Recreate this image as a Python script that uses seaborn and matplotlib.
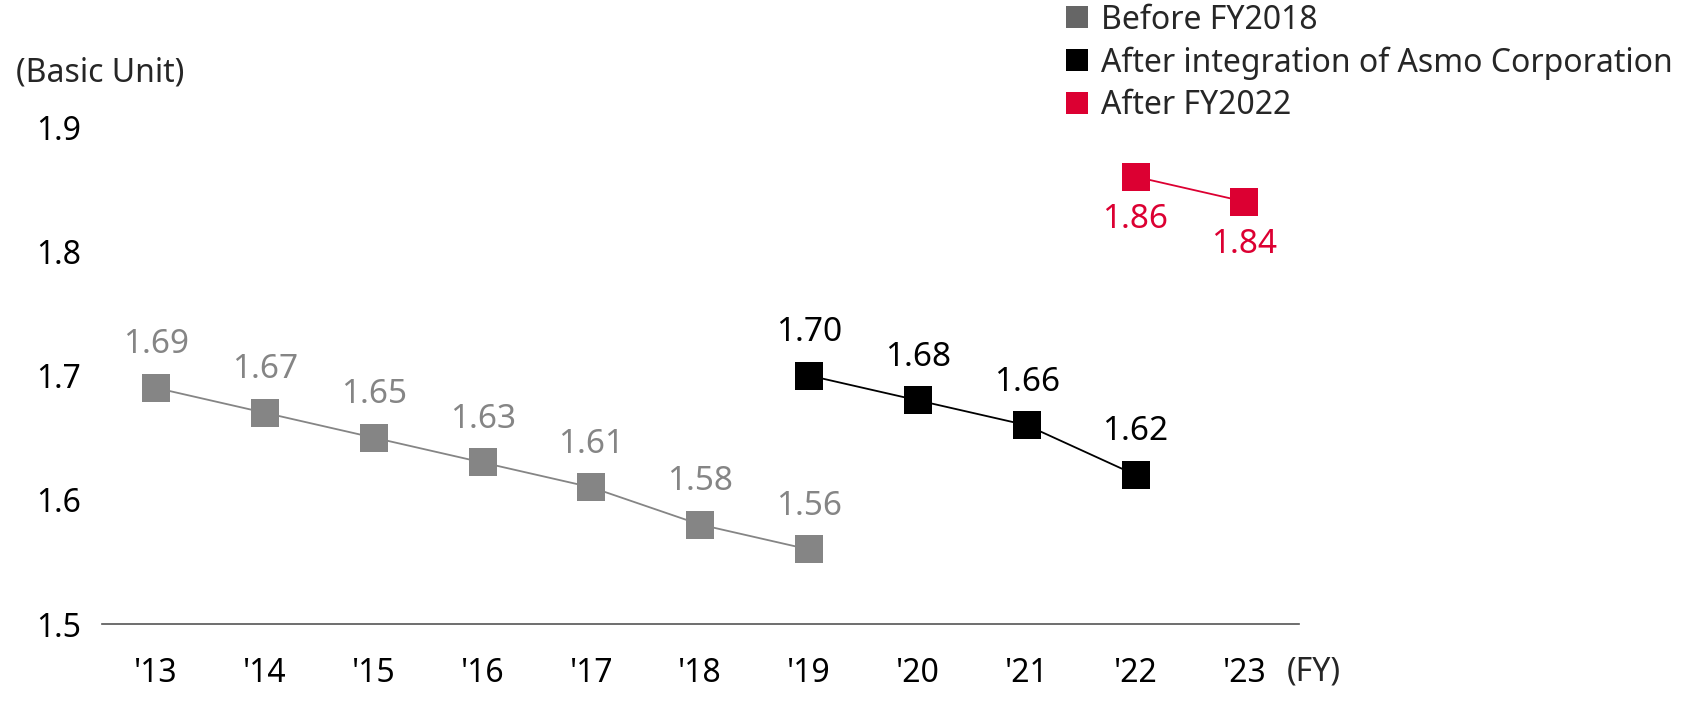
import matplotlib
matplotlib.use("Agg")
import matplotlib.pyplot as plt
from matplotlib.lines import Line2D
import seaborn as sns
import pandas as pd

# data
years_before = [2013, 2014, 2015, 2016, 2017, 2018, 2019]
vals_before = [1.69, 1.67, 1.65, 1.63, 1.61, 1.58, 1.56]
years_asmo = [2019, 2020, 2021, 2022]
vals_asmo = [1.70, 1.68, 1.66, 1.62]
years_2022 = [2022, 2023]
vals_2022 = [1.86, 1.84]

tick_years = list(range(2013, 2024))
tick_labels = ["'13", "'14", "'15", "'16", "'17", "'18", "'19", "'20", "'21", "'22", "'23"]
legend_labels = ["Before FY2018", "After integration of Asmo Corporation", "After FY2022"]

grey = "#858585"
grey_legend = "#666666"
black = "#000000"
red = "#DC0032"
fs = 23

sns.set_style("white")
plt.rcParams['font.family'] = ['Noto Sans', 'DejaVu Sans']

fig = plt.figure(figsize=(17, 7.1), dpi=100)
ax = fig.add_axes([0.0598, 0.1211, 0.7042, 0.7])

series = [
    (years_before, vals_before, grey, 'above'),
    (years_asmo, vals_asmo, black, 'above'),
    (years_2022, vals_2022, red, 'below'),
]
for xs, ys, col, pos in series:
    df = pd.DataFrame({'year': xs, 'value': ys})
    sns.lineplot(data=df, x='year', y='value', ax=ax, color=col, lw=1.3,
                 marker='s', markersize=19.5, markeredgewidth=0)
    for x, y in zip(xs, ys):
        dy = 31 if pos == 'above' else -31
        ax.annotate(f"{y:.2f}", (x, y), xytext=(0, dy), textcoords='offset points',
                    ha='center', va='center', fontsize=24, color=col)

ax.set_xlim(2012.5, 2023.5)
ax.set_ylim(1.5, 1.9)
ax.set_xticks(tick_years)
ax.set_xticklabels(tick_labels)
ax.set_yticks([1.5, 1.6, 1.7, 1.8, 1.9])
ax.set_yticklabels(["1.5", "1.6", "1.7", "1.8", "1.9"])
ax.tick_params(axis='both', length=0, labelsize=fs, colors='black')
ax.tick_params(axis='x', pad=24)
ax.tick_params(axis='y', pad=15)
ax.set_xlabel("")
ax.set_ylabel("")
for s in ['top', 'right', 'left']:
    ax.spines[s].set_visible(False)
ax.spines['bottom'].set_color('#555555')
ax.spines['bottom'].set_linewidth(1.2)

fig.text(0.0095, 0.897, "(Basic Unit)", fontsize=fs, ha='left', va='center')
fig.text(0.757, 0.0535, "(FY)", fontsize=fs, ha='left', va='center')

handles = [Line2D([], [], marker='s', ls='none', color=c, markersize=15.5, markeredgewidth=0)
           for c in [grey_legend, black, red]]
ax.legend(handles, legend_labels, loc='upper left', bbox_to_anchor=(0.626, 0.995),
          bbox_transform=fig.transFigure, frameon=False, fontsize=fs,
          handlelength=0.8, handletextpad=0.35, labelspacing=0.3, borderpad=0,
          borderaxespad=0)

fig.savefig("out.png", dpi=100)
